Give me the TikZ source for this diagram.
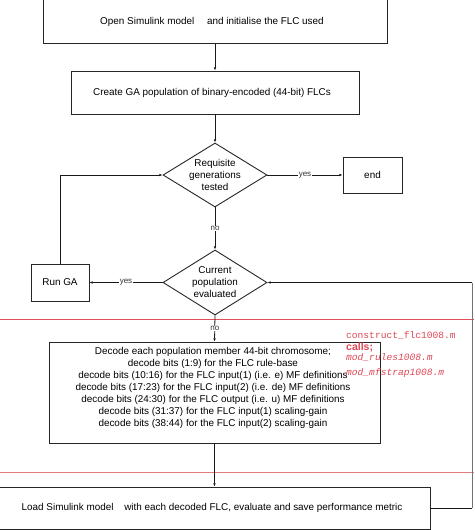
\documentclass[tikz,border=0pt]{standalone}
\usepackage{fontspec}
\setmainfont{Liberation Sans}
\setmonofont{Liberation Mono}
\usetikzlibrary{shapes.geometric,arrows.meta}
\definecolor{redtxt}{RGB}{222,70,85}
\definecolor{redlineA}{RGB}{226,80,85}
\definecolor{redlineB}{RGB}{225,125,125}
\tikzset{
  box/.style={draw=black!85,line width=0.9pt,rectangle,inner sep=0pt},
  dia/.style={draw=black!85,line width=0.9pt,diamond,inner sep=0pt},
  txt/.style={font=\fontsize{9.9}{12}\selectfont,align=center,inner sep=0pt},
  lbl/.style={font=\fontsize{8}{8}\selectfont,fill=white,inner sep=0.6pt,text=black!80},
  conn/.style={draw=black!90,line width=0.8pt,-{Latex[length=3.2pt,width=2.6pt]}},
  plain/.style={draw=black!90,line width=0.8pt},
  redt/.style={text=redtxt,inner sep=0pt,anchor=west},
}
\begin{document}
\begin{tikzpicture}[x=1pt,y=-1pt]
\useasboundingbox (0,0) rectangle (474,530);
\clip (0,0) rectangle (474,530);
% boxes
\node[box,minimum width=344,minimum height=44] (init) at (215,21) {};
\node[txt] (initT) at (212,22) {Open Simulink model\hspace{10pt} and initialise the FLC used};
\node[box,minimum width=288,minimum height=43] (ga) at (215,92.5) {};
\node[txt] (gaT) at (212,93) {Create GA population of binary-encoded (44-bit) FLCs};
\node[dia,minimum width=104,minimum height=64] (d1) at (215,175) {};
\node[txt] (d1T) at (215,175) {Requisite\\generations\\tested};
\node[box,minimum width=59,minimum height=36] (end) at (372.5,175) {};
\node[txt] (endT) at (372.5,175) {end};
\node[dia,minimum width=104,minimum height=65] (d2) at (215,282.5) {};
\node[txt] (d2T) at (215,282) {Current\\population\\evaluated};
\node[box,minimum width=58,minimum height=37] (run) at (60,282.5) {};
\node[txt] (runT) at (60,282.5) {Run GA};
\node[box,minimum width=331,minimum height=101] (dec) at (214.5,392.5) {};
\node[txt] (decT) at (213,388) {Decode each population member 44-bit chromosome;\\
decode bits (1:9) for the FLC rule-base\\
decode bits (10:16) for the FLC input(1) (i.e. e) MF definitions\\
decode bits (17:23) for the FLC input(2) (i.e. de) MF definitions\\
decode bits (24:30) for the FLC output (i.e. u) MF definitions\\
decode bits (31:37) for the FLC input(1) scaling-gain\\
decode bits (38:44) for the FLC input(2) scaling-gain};
\node[box,minimum width=432,minimum height=42] (load) at (214,508) {};
\node[txt] (loadT) at (212,508) {Load Simulink model\hspace{8pt} with each decoded FLC, evaluate and save performance metric};
% red separators
\draw[redlineA,line width=0.9pt] (0,319) -- (474,319);
\draw[redlineB,line width=0.9pt] (0,472) -- (474,472);
% red notes
\node[redt,font=\ttfamily\fontsize{9.6}{10}\selectfont] (n1) at (346,336) {construct\_flc1008.m};
\node[redt,font=\bfseries\fontsize{10.5}{11}\selectfont] (n2) at (346,348) {calls;};
\node[redt,font=\ttfamily\itshape\fontsize{9.6}{10}\selectfont] (n3) at (346,358) {mod\_rules1008.m};
\node[redt,font=\ttfamily\itshape\fontsize{9.6}{10}\selectfont] (n4) at (346,373) {mod\_mfstrap1008.m};
% connectors
\draw[conn] (init.south) -- (ga.north);
\draw[conn] (ga.south) -- (d1.north);
\draw[conn] (d1.east) -- node[lbl] {yes} (end.west);
\draw[conn] (d1.south) -- node[lbl] {no} (d2.north);
\draw[conn] (d2.west) -- node[lbl] {yes} (run.east);
\draw[conn] (run.north) |- (d1.west);
\draw[conn] (d2.south) -- node[lbl] {no} (dec.north);
\draw[conn] (dec.south) -- (dec.south |- load.north);
\coordinate (rr) at (472,508);
\coordinate (rt) at (472,282.5);
\draw[plain] (load.east) -- (rr);
\draw[plain,draw=black!55] (rr) -- (rt);
\draw[conn] (rt) -- (d2.east);
\end{tikzpicture}
\end{document}
